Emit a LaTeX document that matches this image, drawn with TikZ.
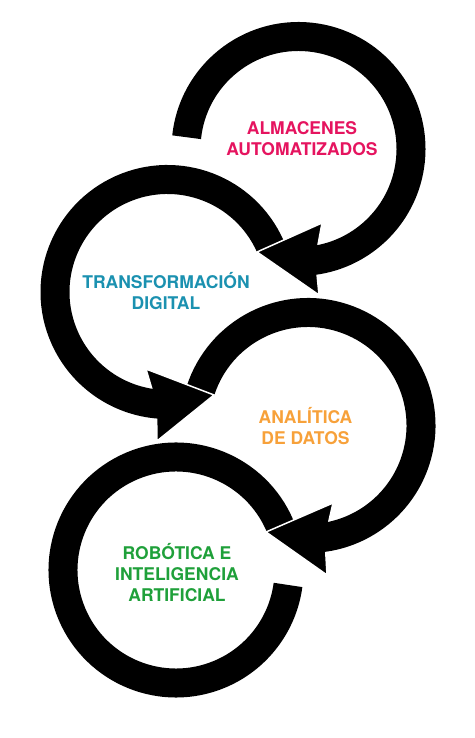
\documentclass[tikz,border=0pt]{standalone}
\usepackage{fontspec}
\setmainfont{TeX Gyre Heros}
\usepackage{tikz}
\definecolor{Pink}{HTML}{E5145F}
\definecolor{Teal}{HTML}{1B91B0}
\definecolor{Orange}{HTML}{F7A13A}
\definecolor{Green}{HTML}{1FA03A}

\begin{document}
\begin{tikzpicture}[x=1pt,y=1pt,
    band/.style={line width=29pt,black},
    headshape/.style={fill=black,draw=white,line width=1.5pt},
    loopname/.style={font=\fontsize{17.5}{20.8}\selectfont\bfseries,align=center,anchor=south,inner sep=0pt}]
        \useasboundingbox (0,0) rectangle (474,738);
        \coordinate (c1) at (298.5,589);
        \coordinate (c2) at (167.5,446);
        \coordinate (c3) at (308,312.5);
        \coordinate (c4) at (176,168);
        \draw[band] (c4) ++(22.9:113) arc[start angle=22.9,end angle=352.4,radius=113];
        \fill[headshape] (266,206)--(333,235)--(325,199.5)--(327,163)--cycle;
        \draw[band] (c3) ++(162:113) arc[start angle=162,end angle=-83.5,radius=113];
        \fill[headshape] (214,343)--(146,369)--(156.4,333.8)--(157,297)--cycle;
        \draw[band] (c2) ++(24.1:112.5) arc[start angle=24.1,end angle=266,radius=112.5];
        \fill[headshape] (257,486)--(322,515)--(315.5,479.5)--(319,443)--cycle;
        \draw[band] (c1) ++(174:112.5) arc[start angle=174,end angle=-82.7,radius=112.5];
        \node[loopname,Pink] (almacenes) at (302,582.3) {ALMACENES\\AUTOMATIZADOS};
        \node[loopname,Teal] (transformacion) at (166,428) {TRANSFORMACIÓN\\DIGITAL};
        \node[loopname,Orange] (analitica) at (305.5,293) {ANALÍTICA\\DE DATOS};
        \node[loopname,Green] (robotica) at (177,136) {ROBÓTICA E\\INTELIGENCIA\\ARTIFICIAL};
      \end{tikzpicture}
\end{document}
